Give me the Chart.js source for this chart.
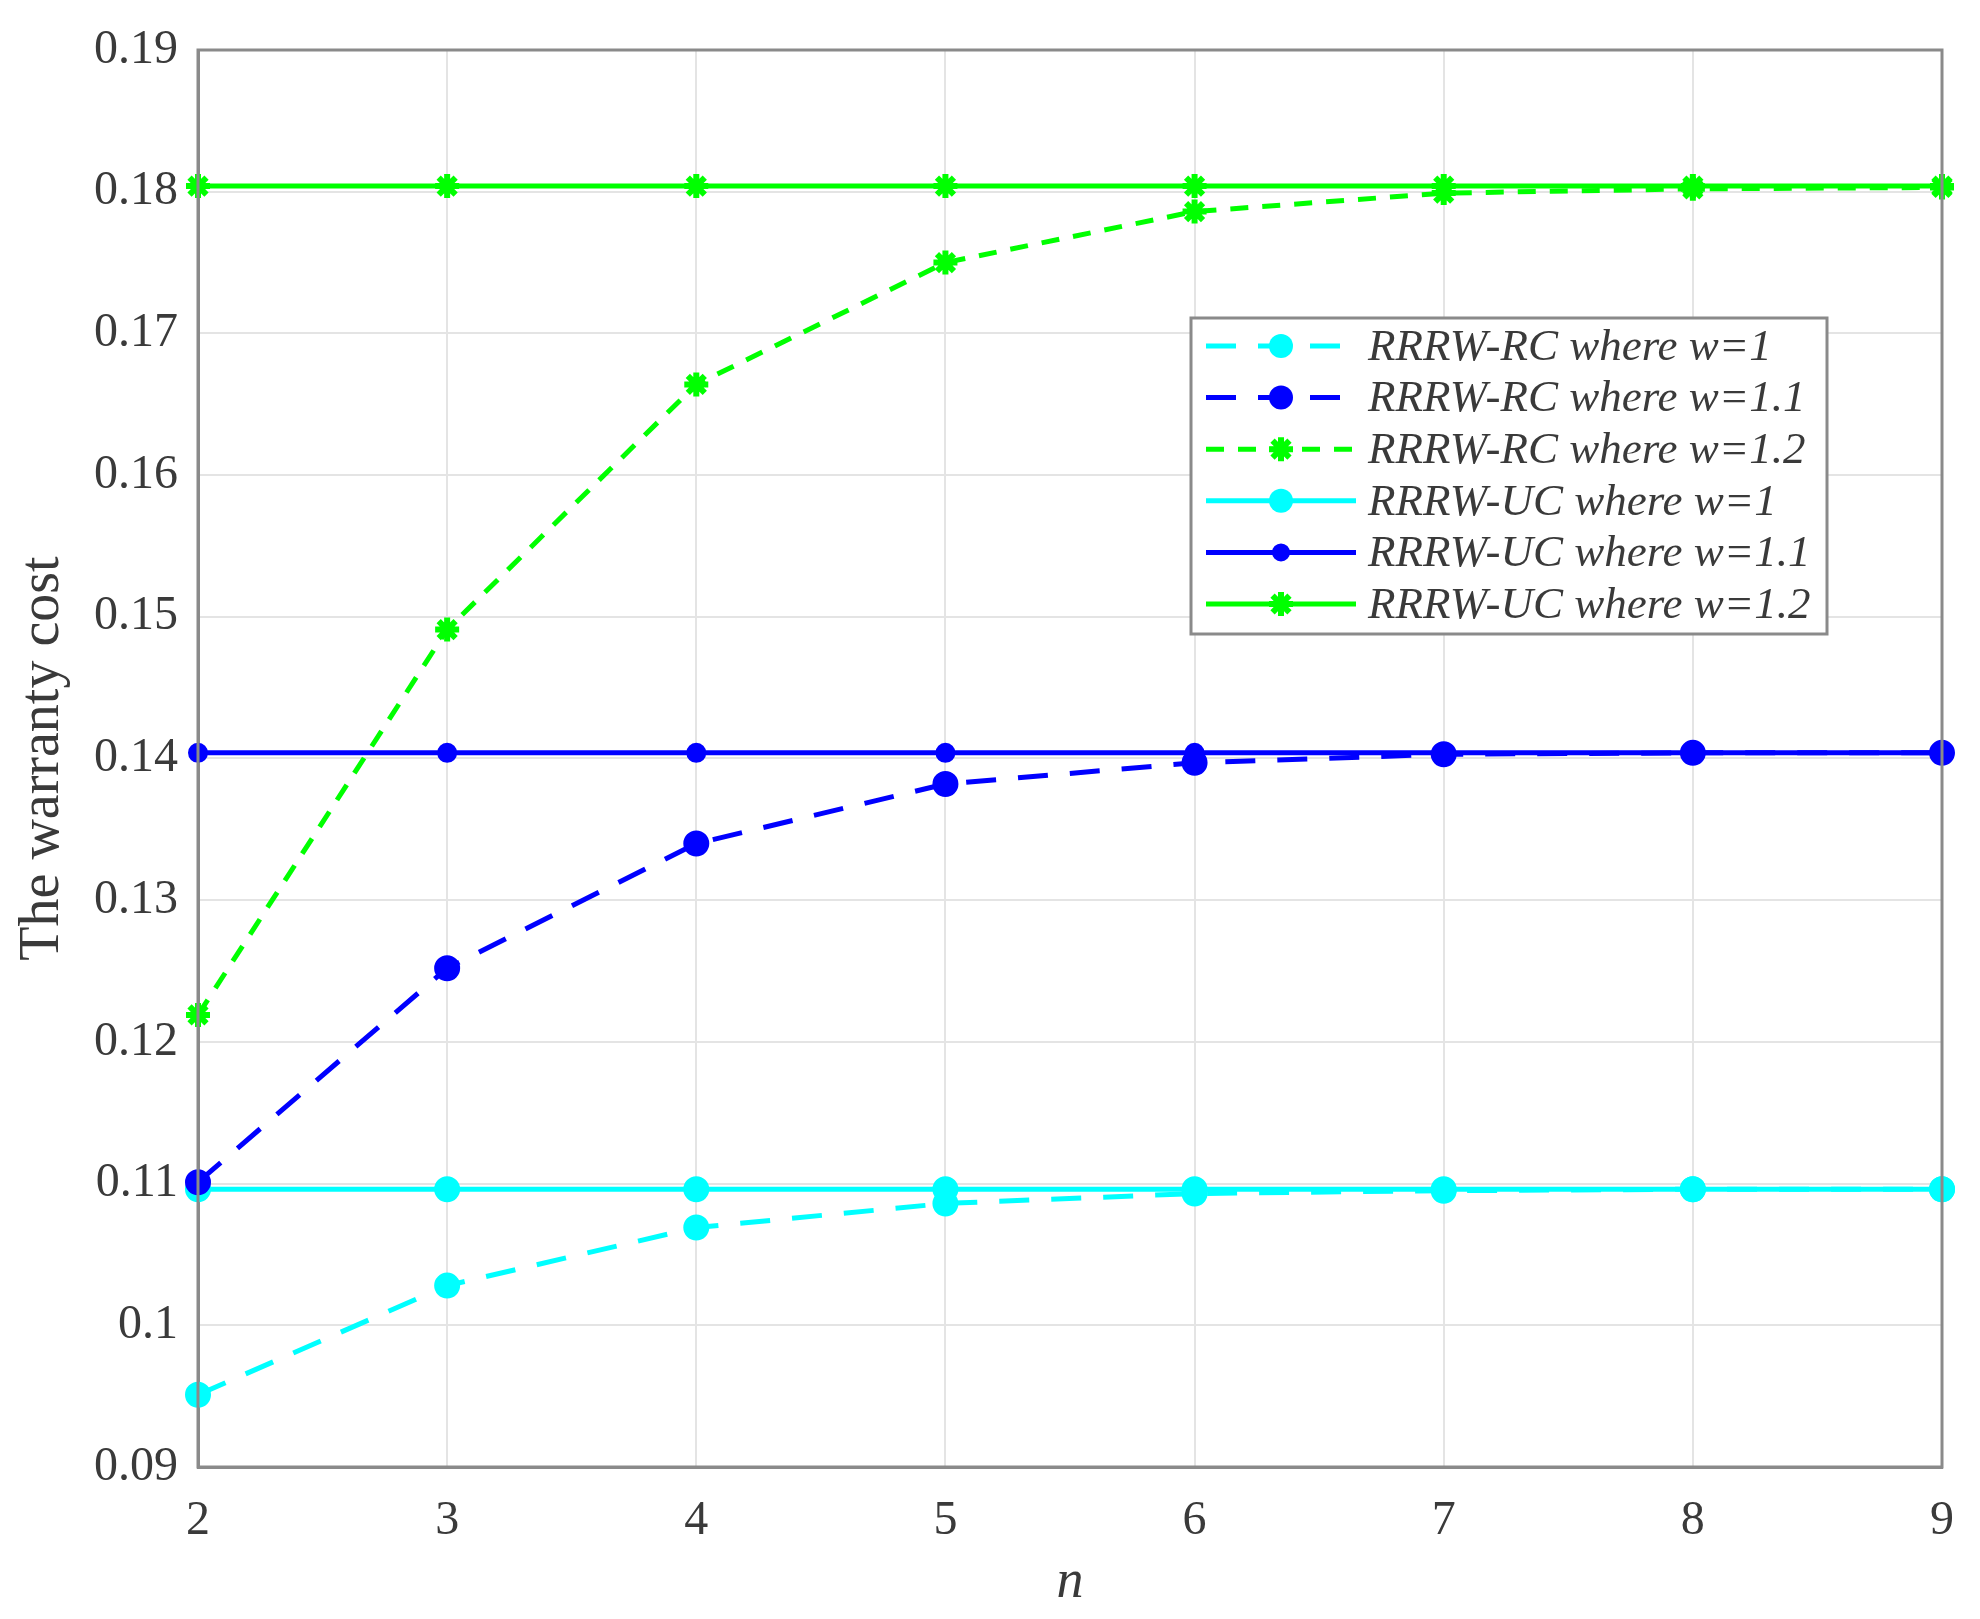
<!DOCTYPE html>
<html lang="en">
<head>
  <meta charset="UTF-8">
  <title>Warranty cost vs n</title>
  <script src="https://cdn.jsdelivr.net/npm/chart.js"></script>
  <style>
    html, body {
      margin: 0;
      padding: 0;
      background: #ffffff;
    }
    #wrap {
      width: 1980px;
      height: 1619px;
    }
  </style>
</head>
<body>
  <div id="wrap"><canvas id="costChart" width="1980" height="1619"></canvas></div>

  <script>
    // n values (x axis)
    const nValues = [2, 3, 4, 5, 6, 7, 8, 9];

    // RRRW-RC (dashed)
    const rcW1  = [0.0951, 0.1028, 0.1069, 0.1086, 0.1093, 0.1095, 0.1096, 0.1096];
    const rcW11 = [0.1101, 0.1252, 0.1340, 0.1382, 0.1397, 0.1403, 0.1404, 0.1404];
    const rcW12 = [0.1219, 0.1491, 0.1664, 0.1750, 0.1786, 0.1799, 0.1802, 0.1803];

    // RRRW-UC (solid)
    const ucW1  = [0.1096, 0.1096, 0.1096, 0.1096, 0.1096, 0.1096, 0.1096, 0.1096];
    const ucW11 = [0.1404, 0.1404, 0.1404, 0.1404, 0.1404, 0.1404, 0.1404, 0.1404];
    const ucW12 = [0.1804, 0.1804, 0.1804, 0.1804, 0.1804, 0.1804, 0.1804, 0.1804];

    const yTicks = [0.09, 0.1, 0.11, 0.12, 0.13, 0.14, 0.15, 0.16, 0.17, 0.18, 0.19];

    const CYAN = '#00ffff', BLUE = '#0000ff', GREEN = '#00ff00';
    const AXIS = '#8a8a8a', TEXT = '#3a3a3a';
    const SERIF = '"Liberation Serif", "Times New Roman", serif';

    const toXY = arr => arr.map((v, i) => ({ x: nValues[i], y: v }));

    function series(label, values, color, dash, pointStyle, radius, borderW) {
      return {
        label: label,
        data: toXY(values),
        borderColor: color,
        backgroundColor: color,
        borderWidth: 5,
        borderDash: dash,
        pointStyle: pointStyle,
        pointRadius: radius,
        pointBorderWidth: borderW,
        pointBackgroundColor: color,
        pointBorderColor: color,
        tension: 0,
        fill: false,
        clip: false
      };
    }

    const datasets = [
      series('RRRW-RC where w=1',   rcW1,  CYAN,  [30, 22], 'circle', 12, 2),
      series('RRRW-RC where w=1.1', rcW11, BLUE,  [30, 22], 'circle', 12, 2),
      series('RRRW-RC where w=1.2', rcW12, GREEN, [18, 14], 'star', 12, 6),
      series('RRRW-UC where w=1',   ucW1,  CYAN,  [], 'circle', 12, 2),
      series('RRRW-UC where w=1.1', ucW11, BLUE,  [], 'circle', 9, 2),
      series('RRRW-UC where w=1.2', ucW12, GREEN, [], 'star', 12, 6)
    ];

    // box around the plot area (MATLAB style)
    const boxPlugin = {
      id: 'box',
      afterDatasetsDraw(chart) {
        const a = chart.chartArea, ctx = chart.ctx;
        ctx.save();
        ctx.strokeStyle = AXIS;
        ctx.lineWidth = 3;
        ctx.strokeRect(a.left, a.top, a.right - a.left, a.bottom - a.top);
        ctx.restore();
      }
    };

    // legend inside the plot, upper right
    const legendPlugin = {
      id: 'insideLegend',
      afterDraw(chart) {
        const ctx = chart.ctx;
        const box = { x: 1191, y: 318, w: 636, h: 316 };
        const rowH = 51.6, firstRow = 346;
        ctx.save();
        ctx.fillStyle = '#ffffff';
        ctx.fillRect(box.x, box.y, box.w, box.h);
        ctx.strokeStyle = AXIS;
        ctx.lineWidth = 3;
        ctx.strokeRect(box.x, box.y, box.w, box.h);
        chart.data.datasets.forEach((ds, i) => {
          const cy = firstRow + i * rowH;
          ctx.save();
          ctx.strokeStyle = ds.borderColor;
          ctx.lineWidth = ds.borderWidth;
          ctx.setLineDash(ds.borderDash);
          ctx.beginPath();
          ctx.moveTo(1206, cy);
          ctx.lineTo(1356, cy);
          ctx.stroke();
          ctx.restore();

          ctx.save();
          ctx.fillStyle = ds.pointBackgroundColor;
          ctx.strokeStyle = ds.pointBorderColor;
          ctx.lineWidth = ds.pointBorderWidth;
          ctx.setLineDash([]);
          if (ds.pointStyle === 'circle') {
            ctx.beginPath();
            ctx.arc(1281, cy, ds.pointRadius, 0, Math.PI * 2);
            ctx.fill();
          } else {
            Chart.helpers.drawPoint(ctx, { pointStyle: ds.pointStyle, radius: ds.pointRadius, borderWidth: ds.pointBorderWidth, rotation: 0 }, 1281, cy);
          }
          ctx.restore();

          ctx.fillStyle = TEXT;
          ctx.font = 'italic 45px ' + SERIF;
          ctx.textBaseline = 'middle';
          ctx.textAlign = 'left';
          ctx.fillText(ds.label, 1368, cy + 2);
        });
        ctx.restore();
      }
    };

    new Chart(document.getElementById('costChart'), {
      type: 'line',
      data: { datasets: datasets },
      options: {
        responsive: false,
        animation: false,
        layout: { padding: { top: 50, right: 35, left: 0, bottom: 0 } },
        plugins: {
          legend: { display: false },
          tooltip: { enabled: false }
        },
        scales: {
          x: {
            type: 'linear',
            min: 2,
            max: 9,
            afterBuildTicks: s => { s.ticks = nValues.map(v => ({ value: v })); },
            afterFit: s => { s.height = 152; },
            ticks: {
              color: TEXT,
              padding: 26,
              font: { family: SERIF, size: 48 }
            },
            grid: { color: '#e4e4e4', lineWidth: 2, drawTicks: false },
            border: { color: AXIS, width: 3 },
            title: {
              display: true,
              text: 'n',
              color: TEXT,
              padding: { top: 6 },
              font: { family: SERIF, size: 54, style: 'italic' }
            }
          },
          y: {
            type: 'linear',
            min: 0.09,
            max: 0.19,
            afterBuildTicks: s => { s.ticks = yTicks.map(v => ({ value: v })); },
            afterFit: s => { s.width = 198; },
            ticks: {
              color: TEXT,
              padding: 20,
              font: { family: SERIF, size: 48 },
              callback: v => String(parseFloat(v.toFixed(2)))
            },
            grid: { color: '#e4e4e4', lineWidth: 2, drawTicks: false },
            border: { color: AXIS, width: 3 },
            title: {
              display: true,
              text: 'The warranty cost',
              color: TEXT,
              padding: { bottom: 0, top: 10 },
              font: { family: SERIF, size: 56 }
            }
          }
        }
      },
      plugins: [boxPlugin, legendPlugin]
    });
  </script>
</body>
</html>
